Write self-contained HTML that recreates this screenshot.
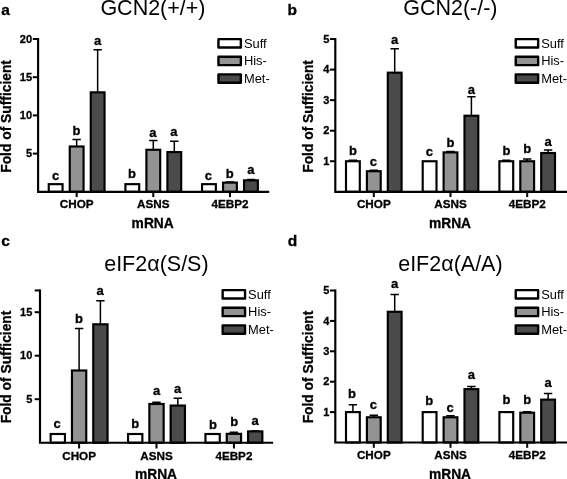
<!DOCTYPE html>
<html><head><meta charset="utf-8"><title>Figure</title>
<style>html,body{margin:0;padding:0;background:#fff}svg{display:block}text{font-family:"Liberation Sans",sans-serif;fill:#000}</style>
</head><body>
<svg width="567" height="479" viewBox="0 0 567 479">
<rect width="567" height="479" fill="#fff"/>
<rect x="48.75" y="184.16" width="13.8" height="7.64" fill="#ffffff" stroke="#000" stroke-width="2.15"/>
<text x="55.60" y="180.10" font-size="13" font-weight="bold" stroke="#000" stroke-width="0.3" text-anchor="middle">c</text>
<path d="M76.65 146.49V139.62M72.45 139.62H80.85" stroke="#000" stroke-width="1.5" fill="none"/>
<rect x="69.75" y="146.49" width="13.8" height="45.31" fill="#939393" stroke="#000" stroke-width="2.15"/>
<text x="76.40" y="134.50" font-size="13" font-weight="bold" stroke="#000" stroke-width="0.3" text-anchor="middle">b</text>
<path d="M97.65 92.33V49.70M93.45 49.70H101.85" stroke="#000" stroke-width="1.5" fill="none"/>
<rect x="90.75" y="92.33" width="13.8" height="99.47" fill="#4b4b4b" stroke="#000" stroke-width="2.15"/>
<text x="97.70" y="45.10" font-size="13" font-weight="bold" stroke="#000" stroke-width="0.3" text-anchor="middle">a</text>
<rect x="125.40" y="184.16" width="13.8" height="7.64" fill="#ffffff" stroke="#000" stroke-width="2.15"/>
<text x="132.00" y="178.10" font-size="13" font-weight="bold" stroke="#000" stroke-width="0.3" text-anchor="middle">b</text>
<path d="M153.30 149.78V140.38M149.10 140.38H157.50" stroke="#000" stroke-width="1.5" fill="none"/>
<rect x="146.40" y="149.78" width="13.8" height="42.02" fill="#939393" stroke="#000" stroke-width="2.15"/>
<text x="152.80" y="137.00" font-size="13" font-weight="bold" stroke="#000" stroke-width="0.3" text-anchor="middle">a</text>
<path d="M174.30 152.07V141.15M170.10 141.15H178.50" stroke="#000" stroke-width="1.5" fill="none"/>
<rect x="167.40" y="152.07" width="13.8" height="39.73" fill="#4b4b4b" stroke="#000" stroke-width="2.15"/>
<text x="173.80" y="135.80" font-size="13" font-weight="bold" stroke="#000" stroke-width="0.3" text-anchor="middle">a</text>
<rect x="202.05" y="184.16" width="13.8" height="7.64" fill="#ffffff" stroke="#000" stroke-width="2.15"/>
<text x="208.40" y="180.10" font-size="13" font-weight="bold" stroke="#000" stroke-width="0.3" text-anchor="middle">c</text>
<path d="M229.95 182.63V182.02M225.75 182.02H234.15" stroke="#000" stroke-width="1.5" fill="none"/>
<rect x="223.05" y="182.63" width="13.8" height="9.17" fill="#939393" stroke="#000" stroke-width="2.15"/>
<text x="229.70" y="178.10" font-size="13" font-weight="bold" stroke="#000" stroke-width="0.3" text-anchor="middle">b</text>
<path d="M250.95 180.34V179.42M246.75 179.42H255.15" stroke="#000" stroke-width="1.5" fill="none"/>
<rect x="244.05" y="180.34" width="13.8" height="11.46" fill="#4b4b4b" stroke="#000" stroke-width="2.15"/>
<text x="250.90" y="174.40" font-size="13" font-weight="bold" stroke="#000" stroke-width="0.3" text-anchor="middle">a</text>
<path d="M38.10 38.00V191.80H269.20" stroke="#000" stroke-width="2.15" fill="none" stroke-linejoin="miter"/>
<path d="M32.80 153.60H38.10" stroke="#000" stroke-width="2"/>
<text x="32.10" y="157.30" font-size="11" font-weight="bold" stroke="#000" stroke-width="0.3" text-anchor="end">5</text>
<path d="M32.80 115.40H38.10" stroke="#000" stroke-width="2"/>
<text x="32.10" y="119.10" font-size="11" font-weight="bold" stroke="#000" stroke-width="0.3" text-anchor="end">10</text>
<path d="M32.80 77.20H38.10" stroke="#000" stroke-width="2"/>
<text x="32.10" y="80.90" font-size="11" font-weight="bold" stroke="#000" stroke-width="0.3" text-anchor="end">15</text>
<path d="M32.80 39.00H38.10" stroke="#000" stroke-width="2"/>
<text x="32.10" y="42.70" font-size="11" font-weight="bold" stroke="#000" stroke-width="0.3" text-anchor="end">20</text>
<path d="M76.65 191.80V197.10" stroke="#000" stroke-width="2"/>
<text x="76.65" y="208.20" font-size="11.7" font-weight="bold" stroke="#000" stroke-width="0.3" text-anchor="middle">CHOP</text>
<path d="M153.30 191.80V197.10" stroke="#000" stroke-width="2"/>
<text x="153.30" y="208.20" font-size="11.7" font-weight="bold" stroke="#000" stroke-width="0.3" text-anchor="middle">ASNS</text>
<path d="M229.95 191.80V197.10" stroke="#000" stroke-width="2"/>
<text x="229.95" y="208.20" font-size="11.7" font-weight="bold" stroke="#000" stroke-width="0.3" text-anchor="middle">4EBP2</text>
<text x="152.70" y="227.50" font-size="13.8" font-weight="bold" stroke="#000" stroke-width="0.3" text-anchor="middle">mRNA</text>
<text x="10.60" y="116.40" font-size="14.2" font-weight="bold" stroke="#000" stroke-width="0.3" text-anchor="middle" textLength="112.70" lengthAdjust="spacingAndGlyphs" transform="rotate(-90 10.60 116.40)">Fold of Sufficient</text>
<text x="1.20" y="15.40" font-size="15.5" font-weight="bold" stroke="#000" stroke-width="0.3">a</text>
<text x="100.40" y="15.20" font-size="21.5">GCN2(+/+)</text>
<rect x="218.45" y="39.15" width="22.4" height="8.4" fill="#ffffff" stroke="#000" stroke-width="2.4" stroke-linejoin="round"/>
<text x="243.90" y="47.80" font-size="12.9">Suff</text>
<rect x="218.45" y="56.75" width="22.4" height="8.4" fill="#939393" stroke="#000" stroke-width="2.4" stroke-linejoin="round"/>
<text x="243.90" y="65.40" font-size="12.9">His-</text>
<rect x="218.45" y="74.35" width="22.4" height="8.4" fill="#4b4b4b" stroke="#000" stroke-width="2.4" stroke-linejoin="round"/>
<text x="243.90" y="83.00" font-size="12.9">Met-</text>
<path d="M352.90 161.25V160.33M348.70 160.33H357.10" stroke="#000" stroke-width="1.5" fill="none"/>
<rect x="346.00" y="161.25" width="13.8" height="30.55" fill="#ffffff" stroke="#000" stroke-width="2.15"/>
<text x="352.90" y="154.60" font-size="13" font-weight="bold" stroke="#000" stroke-width="0.3" text-anchor="middle">b</text>
<path d="M373.80 171.21V170.29M369.60 170.29H378.00" stroke="#000" stroke-width="1.5" fill="none"/>
<rect x="366.90" y="171.21" width="13.8" height="20.59" fill="#939393" stroke="#000" stroke-width="2.15"/>
<text x="373.40" y="166.30" font-size="13" font-weight="bold" stroke="#000" stroke-width="0.3" text-anchor="middle">c</text>
<path d="M394.70 72.66V48.83M390.50 48.83H398.90" stroke="#000" stroke-width="1.5" fill="none"/>
<rect x="387.80" y="72.66" width="13.8" height="119.14" fill="#4b4b4b" stroke="#000" stroke-width="2.15"/>
<text x="394.70" y="43.60" font-size="13" font-weight="bold" stroke="#000" stroke-width="0.3" text-anchor="middle">a</text>
<rect x="422.70" y="161.25" width="13.8" height="30.55" fill="#ffffff" stroke="#000" stroke-width="2.15"/>
<text x="429.30" y="155.80" font-size="13" font-weight="bold" stroke="#000" stroke-width="0.3" text-anchor="middle">c</text>
<path d="M450.50 152.39V151.47M446.30 151.47H454.70" stroke="#000" stroke-width="1.5" fill="none"/>
<rect x="443.60" y="152.39" width="13.8" height="39.41" fill="#939393" stroke="#000" stroke-width="2.15"/>
<text x="450.40" y="146.60" font-size="13" font-weight="bold" stroke="#000" stroke-width="0.3" text-anchor="middle">b</text>
<path d="M471.40 115.73V96.79M467.20 96.79H475.60" stroke="#000" stroke-width="1.5" fill="none"/>
<rect x="464.50" y="115.73" width="13.8" height="76.07" fill="#4b4b4b" stroke="#000" stroke-width="2.15"/>
<text x="471.40" y="93.80" font-size="13" font-weight="bold" stroke="#000" stroke-width="0.3" text-anchor="middle">a</text>
<path d="M506.30 161.25V160.33M502.10 160.33H510.50" stroke="#000" stroke-width="1.5" fill="none"/>
<rect x="499.40" y="161.25" width="13.8" height="30.55" fill="#ffffff" stroke="#000" stroke-width="2.15"/>
<text x="506.40" y="155.10" font-size="13" font-weight="bold" stroke="#000" stroke-width="0.3" text-anchor="middle">b</text>
<path d="M527.20 161.25V159.11M523.00 159.11H531.40" stroke="#000" stroke-width="1.5" fill="none"/>
<rect x="520.30" y="161.25" width="13.8" height="30.55" fill="#939393" stroke="#000" stroke-width="2.15"/>
<text x="527.20" y="153.30" font-size="13" font-weight="bold" stroke="#000" stroke-width="0.3" text-anchor="middle">b</text>
<path d="M548.10 153.00V149.95M543.90 149.95H552.30" stroke="#000" stroke-width="1.5" fill="none"/>
<rect x="541.20" y="153.00" width="13.8" height="38.80" fill="#4b4b4b" stroke="#000" stroke-width="2.15"/>
<text x="548.20" y="145.80" font-size="13" font-weight="bold" stroke="#000" stroke-width="0.3" text-anchor="middle">a</text>
<path d="M335.30 38.05V191.80H567.00" stroke="#000" stroke-width="2.15" fill="none" stroke-linejoin="miter"/>
<path d="M330.00 161.25H335.30" stroke="#000" stroke-width="2"/>
<text x="329.30" y="164.95" font-size="11" font-weight="bold" stroke="#000" stroke-width="0.3" text-anchor="end">1</text>
<path d="M330.00 130.70H335.30" stroke="#000" stroke-width="2"/>
<text x="329.30" y="134.40" font-size="11" font-weight="bold" stroke="#000" stroke-width="0.3" text-anchor="end">2</text>
<path d="M330.00 100.15H335.30" stroke="#000" stroke-width="2"/>
<text x="329.30" y="103.85" font-size="11" font-weight="bold" stroke="#000" stroke-width="0.3" text-anchor="end">3</text>
<path d="M330.00 69.60H335.30" stroke="#000" stroke-width="2"/>
<text x="329.30" y="73.30" font-size="11" font-weight="bold" stroke="#000" stroke-width="0.3" text-anchor="end">4</text>
<path d="M330.00 39.05H335.30" stroke="#000" stroke-width="2"/>
<text x="329.30" y="42.75" font-size="11" font-weight="bold" stroke="#000" stroke-width="0.3" text-anchor="end">5</text>
<path d="M373.80 191.80V197.10" stroke="#000" stroke-width="2"/>
<text x="373.80" y="208.20" font-size="11.7" font-weight="bold" stroke="#000" stroke-width="0.3" text-anchor="middle">CHOP</text>
<path d="M450.50 191.80V197.10" stroke="#000" stroke-width="2"/>
<text x="450.50" y="208.20" font-size="11.7" font-weight="bold" stroke="#000" stroke-width="0.3" text-anchor="middle">ASNS</text>
<path d="M527.20 191.80V197.10" stroke="#000" stroke-width="2"/>
<text x="527.20" y="208.20" font-size="11.7" font-weight="bold" stroke="#000" stroke-width="0.3" text-anchor="middle">4EBP2</text>
<text x="450.00" y="227.50" font-size="13.8" font-weight="bold" stroke="#000" stroke-width="0.3" text-anchor="middle">mRNA</text>
<text x="313.20" y="116.40" font-size="14.2" font-weight="bold" stroke="#000" stroke-width="0.3" text-anchor="middle" textLength="112.70" lengthAdjust="spacingAndGlyphs" transform="rotate(-90 313.20 116.40)">Fold of Sufficient</text>
<text x="287.60" y="15.40" font-size="15.5" font-weight="bold" stroke="#000" stroke-width="0.3">b</text>
<text x="403.20" y="15.20" font-size="21.5">GCN2(-/-)</text>
<rect x="515.75" y="39.15" width="22.4" height="8.4" fill="#ffffff" stroke="#000" stroke-width="2.4" stroke-linejoin="round"/>
<text x="541.20" y="47.80" font-size="12.9">Suff</text>
<rect x="515.75" y="56.75" width="22.4" height="8.4" fill="#939393" stroke="#000" stroke-width="2.4" stroke-linejoin="round"/>
<text x="541.20" y="65.40" font-size="12.9">His-</text>
<rect x="515.75" y="74.35" width="22.4" height="8.4" fill="#4b4b4b" stroke="#000" stroke-width="2.4" stroke-linejoin="round"/>
<text x="541.20" y="83.00" font-size="12.9">Met-</text>
<rect x="50.65" y="434.00" width="14.3" height="8.70" fill="#ffffff" stroke="#000" stroke-width="2.15"/>
<text x="57.10" y="427.90" font-size="13" font-weight="bold" stroke="#000" stroke-width="0.3" text-anchor="middle">c</text>
<path d="M79.10 370.49V328.56M74.90 328.56H83.30" stroke="#000" stroke-width="1.5" fill="none"/>
<rect x="71.95" y="370.49" width="14.3" height="72.21" fill="#939393" stroke="#000" stroke-width="2.15"/>
<text x="78.90" y="322.90" font-size="13" font-weight="bold" stroke="#000" stroke-width="0.3" text-anchor="middle">b</text>
<path d="M100.40 324.29V300.80M96.20 300.80H104.60" stroke="#000" stroke-width="1.5" fill="none"/>
<rect x="93.25" y="324.29" width="14.3" height="118.41" fill="#4b4b4b" stroke="#000" stroke-width="2.15"/>
<text x="100.20" y="295.40" font-size="13" font-weight="bold" stroke="#000" stroke-width="0.3" text-anchor="middle">a</text>
<rect x="128.05" y="434.00" width="14.3" height="8.70" fill="#ffffff" stroke="#000" stroke-width="2.15"/>
<text x="135.20" y="427.90" font-size="13" font-weight="bold" stroke="#000" stroke-width="0.3" text-anchor="middle">b</text>
<path d="M156.50 403.99V402.25M152.30 402.25H160.70" stroke="#000" stroke-width="1.5" fill="none"/>
<rect x="149.35" y="403.99" width="14.3" height="38.71" fill="#939393" stroke="#000" stroke-width="2.15"/>
<text x="156.50" y="394.80" font-size="13" font-weight="bold" stroke="#000" stroke-width="0.3" text-anchor="middle">a</text>
<path d="M177.80 405.55V398.16M173.60 398.16H182.00" stroke="#000" stroke-width="1.5" fill="none"/>
<rect x="170.65" y="405.55" width="14.3" height="37.15" fill="#4b4b4b" stroke="#000" stroke-width="2.15"/>
<text x="177.60" y="393.20" font-size="13" font-weight="bold" stroke="#000" stroke-width="0.3" text-anchor="middle">a</text>
<rect x="205.45" y="434.00" width="14.3" height="8.70" fill="#ffffff" stroke="#000" stroke-width="2.15"/>
<text x="212.90" y="428.60" font-size="13" font-weight="bold" stroke="#000" stroke-width="0.3" text-anchor="middle">b</text>
<path d="M233.90 433.83V432.35M229.70 432.35H238.10" stroke="#000" stroke-width="1.5" fill="none"/>
<rect x="226.75" y="433.83" width="14.3" height="8.87" fill="#939393" stroke="#000" stroke-width="2.15"/>
<text x="234.20" y="426.10" font-size="13" font-weight="bold" stroke="#000" stroke-width="0.3" text-anchor="middle">b</text>
<path d="M255.20 431.39V430.95M251.00 430.95H259.40" stroke="#000" stroke-width="1.5" fill="none"/>
<rect x="248.05" y="431.39" width="14.3" height="11.31" fill="#4b4b4b" stroke="#000" stroke-width="2.15"/>
<text x="255.20" y="424.60" font-size="13" font-weight="bold" stroke="#000" stroke-width="0.3" text-anchor="middle">a</text>
<path d="M40.00 289.45V442.70H273.10" stroke="#000" stroke-width="2.15" fill="none" stroke-linejoin="miter"/>
<path d="M34.70 399.20H40.00" stroke="#000" stroke-width="2"/>
<text x="32.30" y="402.90" font-size="11" font-weight="bold" stroke="#000" stroke-width="0.3" text-anchor="end">5</text>
<path d="M34.70 355.70H40.00" stroke="#000" stroke-width="2"/>
<text x="32.30" y="359.40" font-size="11" font-weight="bold" stroke="#000" stroke-width="0.3" text-anchor="end">10</text>
<path d="M34.70 312.20H40.00" stroke="#000" stroke-width="2"/>
<text x="32.30" y="315.90" font-size="11" font-weight="bold" stroke="#000" stroke-width="0.3" text-anchor="end">15</text>
<path d="M34.70 290.45H40.00" stroke="#000" stroke-width="2"/>
<path d="M79.10 442.70V448.49" stroke="#000" stroke-width="2"/>
<text x="79.10" y="459.80" font-size="11.7" font-weight="bold" stroke="#000" stroke-width="0.3" text-anchor="middle">CHOP</text>
<path d="M156.50 442.70V448.49" stroke="#000" stroke-width="2"/>
<text x="156.50" y="459.80" font-size="11.7" font-weight="bold" stroke="#000" stroke-width="0.3" text-anchor="middle">ASNS</text>
<path d="M233.90 442.70V448.49" stroke="#000" stroke-width="2"/>
<text x="233.90" y="459.80" font-size="11.7" font-weight="bold" stroke="#000" stroke-width="0.3" text-anchor="middle">4EBP2</text>
<text x="156.00" y="478.70" font-size="13.8" font-weight="bold" stroke="#000" stroke-width="0.3" text-anchor="middle">mRNA</text>
<text x="10.60" y="367.00" font-size="14.2" font-weight="bold" stroke="#000" stroke-width="0.3" text-anchor="middle" textLength="112.70" lengthAdjust="spacingAndGlyphs" transform="rotate(-90 10.60 367.00)">Fold of Sufficient</text>
<text x="1.30" y="246.00" font-size="15.5" font-weight="bold" stroke="#000" stroke-width="0.3">c</text>
<text x="104.20" y="270.70" font-size="21.5">eIF2α(S/S)</text>
<rect x="222.65" y="290.15" width="22.4" height="8.4" fill="#ffffff" stroke="#000" stroke-width="2.4" stroke-linejoin="round"/>
<text x="248.10" y="298.80" font-size="12.9">Suff</text>
<rect x="222.65" y="307.75" width="22.4" height="8.4" fill="#939393" stroke="#000" stroke-width="2.4" stroke-linejoin="round"/>
<text x="248.10" y="316.40" font-size="12.9">His-</text>
<rect x="222.65" y="325.35" width="22.4" height="8.4" fill="#4b4b4b" stroke="#000" stroke-width="2.4" stroke-linejoin="round"/>
<text x="248.10" y="334.00" font-size="12.9">Met-</text>
<path d="M352.90 412.10V404.80M348.70 404.80H357.10" stroke="#000" stroke-width="1.5" fill="none"/>
<rect x="346.00" y="412.10" width="13.8" height="30.40" fill="#ffffff" stroke="#000" stroke-width="2.15"/>
<text x="352.10" y="397.80" font-size="13" font-weight="bold" stroke="#000" stroke-width="0.3" text-anchor="middle">b</text>
<path d="M373.80 417.27V415.14M369.60 415.14H378.00" stroke="#000" stroke-width="1.5" fill="none"/>
<rect x="366.90" y="417.27" width="13.8" height="25.23" fill="#939393" stroke="#000" stroke-width="2.15"/>
<text x="373.40" y="409.10" font-size="13" font-weight="bold" stroke="#000" stroke-width="0.3" text-anchor="middle">c</text>
<path d="M394.70 311.78V294.45M390.50 294.45H398.90" stroke="#000" stroke-width="1.5" fill="none"/>
<rect x="387.80" y="311.78" width="13.8" height="130.72" fill="#4b4b4b" stroke="#000" stroke-width="2.15"/>
<text x="394.70" y="288.00" font-size="13" font-weight="bold" stroke="#000" stroke-width="0.3" text-anchor="middle">a</text>
<rect x="422.70" y="412.10" width="13.8" height="30.40" fill="#ffffff" stroke="#000" stroke-width="2.15"/>
<text x="429.30" y="404.80" font-size="13" font-weight="bold" stroke="#000" stroke-width="0.3" text-anchor="middle">b</text>
<path d="M450.50 417.27V415.75M446.30 415.75H454.70" stroke="#000" stroke-width="1.5" fill="none"/>
<rect x="443.60" y="417.27" width="13.8" height="25.23" fill="#939393" stroke="#000" stroke-width="2.15"/>
<text x="450.00" y="412.10" font-size="13" font-weight="bold" stroke="#000" stroke-width="0.3" text-anchor="middle">c</text>
<path d="M471.40 389.15V386.41M467.20 386.41H475.60" stroke="#000" stroke-width="1.5" fill="none"/>
<rect x="464.50" y="389.15" width="13.8" height="53.35" fill="#4b4b4b" stroke="#000" stroke-width="2.15"/>
<text x="471.30" y="378.50" font-size="13" font-weight="bold" stroke="#000" stroke-width="0.3" text-anchor="middle">a</text>
<rect x="499.40" y="412.10" width="13.8" height="30.40" fill="#ffffff" stroke="#000" stroke-width="2.15"/>
<text x="506.40" y="404.10" font-size="13" font-weight="bold" stroke="#000" stroke-width="0.3" text-anchor="middle">b</text>
<path d="M527.20 412.71V411.80M523.00 411.80H531.40" stroke="#000" stroke-width="1.5" fill="none"/>
<rect x="520.30" y="412.71" width="13.8" height="29.79" fill="#939393" stroke="#000" stroke-width="2.15"/>
<text x="527.20" y="404.10" font-size="13" font-weight="bold" stroke="#000" stroke-width="0.3" text-anchor="middle">b</text>
<path d="M548.10 399.64V393.56M543.90 393.56H552.30" stroke="#000" stroke-width="1.5" fill="none"/>
<rect x="541.20" y="399.64" width="13.8" height="42.86" fill="#4b4b4b" stroke="#000" stroke-width="2.15"/>
<text x="548.20" y="387.10" font-size="13" font-weight="bold" stroke="#000" stroke-width="0.3" text-anchor="middle">a</text>
<path d="M335.30 289.50V442.50H567.00" stroke="#000" stroke-width="2.15" fill="none" stroke-linejoin="miter"/>
<path d="M330.00 412.10H335.30" stroke="#000" stroke-width="2"/>
<text x="329.30" y="415.80" font-size="11" font-weight="bold" stroke="#000" stroke-width="0.3" text-anchor="end">1</text>
<path d="M330.00 381.70H335.30" stroke="#000" stroke-width="2"/>
<text x="329.30" y="385.40" font-size="11" font-weight="bold" stroke="#000" stroke-width="0.3" text-anchor="end">2</text>
<path d="M330.00 351.30H335.30" stroke="#000" stroke-width="2"/>
<text x="329.30" y="355.00" font-size="11" font-weight="bold" stroke="#000" stroke-width="0.3" text-anchor="end">3</text>
<path d="M330.00 320.90H335.30" stroke="#000" stroke-width="2"/>
<text x="329.30" y="324.60" font-size="11" font-weight="bold" stroke="#000" stroke-width="0.3" text-anchor="end">4</text>
<path d="M330.00 290.50H335.30" stroke="#000" stroke-width="2"/>
<text x="329.30" y="294.20" font-size="11" font-weight="bold" stroke="#000" stroke-width="0.3" text-anchor="end">5</text>
<path d="M373.80 442.50V447.80" stroke="#000" stroke-width="2"/>
<text x="373.80" y="458.90" font-size="11.7" font-weight="bold" stroke="#000" stroke-width="0.3" text-anchor="middle">CHOP</text>
<path d="M450.50 442.50V447.80" stroke="#000" stroke-width="2"/>
<text x="450.50" y="458.90" font-size="11.7" font-weight="bold" stroke="#000" stroke-width="0.3" text-anchor="middle">ASNS</text>
<path d="M527.20 442.50V447.80" stroke="#000" stroke-width="2"/>
<text x="527.20" y="458.90" font-size="11.7" font-weight="bold" stroke="#000" stroke-width="0.3" text-anchor="middle">4EBP2</text>
<text x="450.00" y="478.70" font-size="13.8" font-weight="bold" stroke="#000" stroke-width="0.3" text-anchor="middle">mRNA</text>
<text x="313.20" y="367.00" font-size="14.2" font-weight="bold" stroke="#000" stroke-width="0.3" text-anchor="middle" textLength="112.70" lengthAdjust="spacingAndGlyphs" transform="rotate(-90 313.20 367.00)">Fold of Sufficient</text>
<text x="287.70" y="245.80" font-size="15.5" font-weight="bold" stroke="#000" stroke-width="0.3">d</text>
<text x="398.20" y="270.70" font-size="21.5">eIF2α(A/A)</text>
<rect x="515.75" y="290.15" width="22.4" height="8.4" fill="#ffffff" stroke="#000" stroke-width="2.4" stroke-linejoin="round"/>
<text x="541.20" y="298.80" font-size="12.9">Suff</text>
<rect x="515.75" y="307.75" width="22.4" height="8.4" fill="#939393" stroke="#000" stroke-width="2.4" stroke-linejoin="round"/>
<text x="541.20" y="316.40" font-size="12.9">His-</text>
<rect x="515.75" y="325.35" width="22.4" height="8.4" fill="#4b4b4b" stroke="#000" stroke-width="2.4" stroke-linejoin="round"/>
<text x="541.20" y="334.00" font-size="12.9">Met-</text>
</svg>
</body></html>
